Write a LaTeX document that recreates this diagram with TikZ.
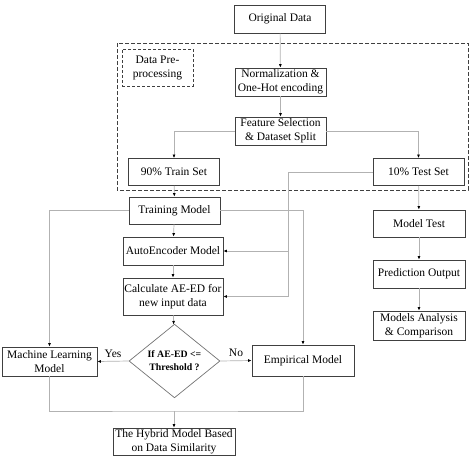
\documentclass[tikz,border=0pt]{standalone}
\usepackage{fontspec}
\setmainfont{Liberation Serif}
\usetikzlibrary{shapes.geometric,arrows.meta}

\begin{document}
\begin{tikzpicture}[x=1pt, y=-1pt,
        main/.style = {draw=black!75, line width=0.8pt, align=center, minimum width=91pt, minimum height=28pt, inner sep=1pt, font=\fontsize{11.5}{14}\selectfont},
        dec/.style = {draw=black!55, line width=0.7pt, diamond, inner sep=0pt, minimum width=91pt, minimum height=54pt, align=center, font=\fontsize{9.8}{13}\selectfont\bfseries},
        line/.style = {draw=black!30, line width=0.7pt},
        arr/.style = {line, -{Latex[length=3.5pt, width=3pt, color=black]}}]
        \useasboundingbox (0,0) rectangle (474,469);
        \node[main] (orig) at (280,19) {Original Data};
        \node[main] (norm) at (280.5,82) {Normalization \&\\One-Hot encoding};
        \node[main] (feat) at (280.5,131) {Feature Selection\\\& Dataset Split};
        \node[main, minimum height=27pt] (train) at (174,172) {90\% Train Set};
        \node[main, minimum height=27pt] (test) at (418.5,172) {10\% Test Set};
        \node[main, minimum height=27pt] (trainm) at (174.5,210.5) {Training Model};
        \node[main, minimum width=100pt] (auto) at (173,251) {AutoEncoder Model};
        \node[main, minimum width=100pt, minimum height=37pt] (calc) at (173,296.5) {Calculate AE-ED for\\new input data};
        \node[dec] (thr) at (174.5,361) {If AE-ED <=\\Threshold ?};
        \node[main, minimum width=95pt, minimum height=29pt] (ml) at (49.5,361.5) {Machine Learning\\Model};
        \node[main, minimum width=102pt, minimum height=31pt] (emp) at (303,360.5) {Empirical Model};
        \node[main, minimum width=122pt, minimum height=27pt] (hyb) at (174,441.5) {The Hybrid Model Based\\on Data Similarity};
        \node[main, minimum width=92pt, minimum height=27pt] (mtest) at (419,223.5) {Model Test};
        \node[main, minimum width=92pt] (pred) at (419,274) {Prediction Output};
        \node[main, minimum width=92pt, minimum height=29pt] (anal) at (419,325.5) {Models Analysis\\\& Comparison};
        % pre-processing frame
        \draw[draw=black!75, line width=0.8pt, dash pattern=on 4pt off 2pt] (117,43) rectangle (468,190);
        \node[draw=black!75, line width=0.7pt, dash pattern=on 3pt off 2pt, minimum width=71pt, minimum height=37pt, align=center, inner sep=1pt, font=\fontsize{11.5}{14}\selectfont] (prep) at (157.5,67.5) {Data Pre-\\processing};
        \coordinate (tap) at (288,172);
        \coordinate (join) at (174,411);
        \draw[arr] (orig) to (norm);
        \draw[arr] (norm) to (feat);
        \draw[arr] (feat.west) -| (train.north);
        \draw[arr] (feat.east) -| (test.north);
        \draw[arr] (train) to (trainm);
        \draw[arr] (trainm) to (auto);
        \draw[arr] (auto) to (calc);
        \draw[arr] (calc) to (thr);
        \draw[arr] (trainm.west) -| (ml.north);
        \draw[arr] (trainm.east) -| (emp.north);
        \draw[line] (test.west) to (tap);
        \draw[arr] (tap) |- (auto.east);
        \draw[arr] (tap) |- (calc.east);
        \draw[arr] (thr.west) to node[above, black, font=\fontsize{11.5}{14}\selectfont] {Yes} (ml.east);
        \draw[arr] (thr.east) to node[above, black, font=\fontsize{11.5}{14}\selectfont] {No} (emp.west);
        \draw[line] (ml.south) |- (join) -| (emp.south);
        \draw[arr] (join) to (hyb);
        \draw[arr] (test) to (mtest);
        \draw[arr] (mtest) to (pred);
        \draw[arr] (pred) to (anal);
    \end{tikzpicture}
\end{document}
